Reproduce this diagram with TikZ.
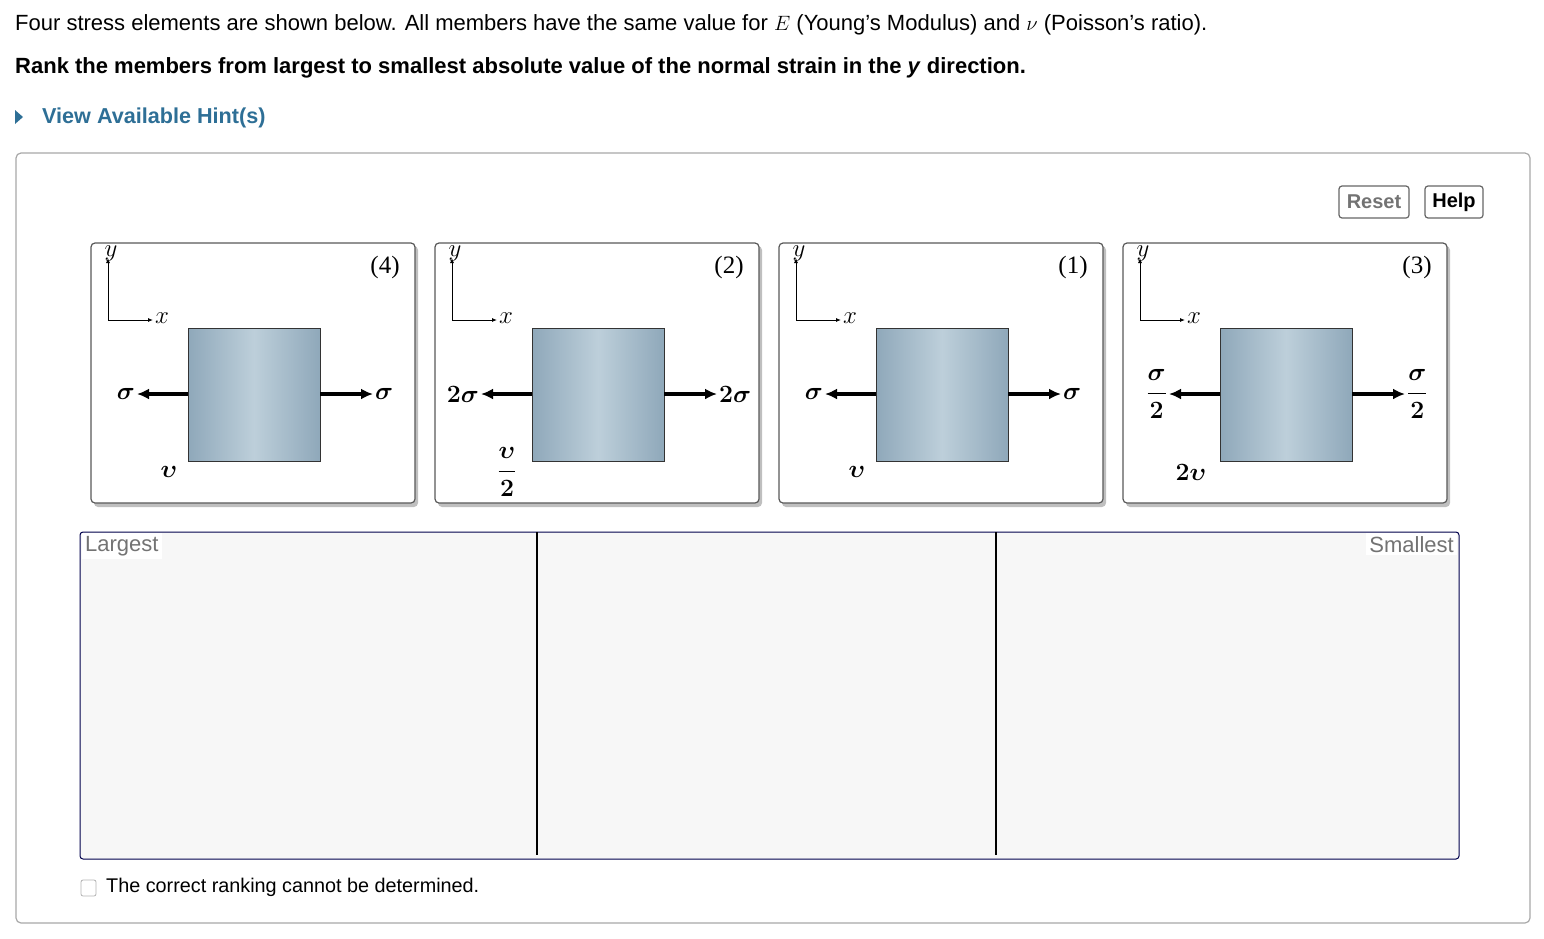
\documentclass[tikz,border=0pt]{standalone}
\usepackage{fontspec}
\setmainfont{Liberation Sans}
\newfontfamily\serifx{Liberation Serif}
\usetikzlibrary{arrows.meta}
\definecolor{linkc}{HTML}{2E6F96}
\definecolor{sq}{HTML}{8FA8BA}
\definecolor{sqm}{HTML}{BDCFDA}
\definecolor{frame}{HTML}{A8A8A8}
\tikzset{
  card/.style={draw=gray!70!black, line width=1.2pt, rounded corners=4pt, fill=white},
  force/.style={line width=3.5pt, -{Latex[length=12pt,width=11pt]}},
  ax/.style={line width=0.9pt, -{Latex[length=5pt,width=4pt]}},
  lab/.style={font=\fontsize{28}{30}\selectfont\boldmath, inner sep=1pt},
  btn/.style={draw=gray!80!black, line width=1.2pt, rounded corners=3pt, font=\fontsize{20}{20}\selectfont\bfseries, minimum height=32pt, inner xsep=6pt},
}
\begin{document}
\begin{tikzpicture}[x=1pt,y=-1pt]
\useasboundingbox (0,0) rectangle (1544,938);
\node[anchor=west, inner sep=0, font=\fontsize{22}{24}\selectfont] (t1) at (15,25) {Four stress elements are shown below. All members have the same value for $E$ (Young’s Modulus) and $\nu$ (Poisson’s ratio).};
\node[anchor=west, inner sep=0, font=\fontsize{22}{24}\selectfont\bfseries] (t2) at (15,68) {Rank the members from largest to smallest absolute value of the normal strain in the \textit{y} direction.};
\fill[linkc] (15,110) -- (23,117) -- (15,124) -- cycle;
\node[anchor=west, inner sep=0, text=linkc, font=\fontsize{21.6}{24}\selectfont\bfseries] (hint) at (42,118) {View Available Hint(s)};
\draw[frame, line width=1.2pt, rounded corners=5pt] (16,153) rectangle (1530,923);
\node[btn, text=gray!90!black, minimum width=70pt] (reset) at (1374,202) {Reset};
\node[btn, minimum width=58pt] (help) at (1454,202) {Help};
% cards
\foreach \cx/\num/\ll/\rl/\nl/\nx in {91/4/{$\sigma$}/{$\sigma$}/{$\upsilon$}/78, 435/2/{$2\sigma$}/{$2\sigma$}/{$\displaystyle\frac{\upsilon}{2}$}/72, 779/1/{$\sigma$}/{$\sigma$}/{$\upsilon$}/78, 1123/3/{$\displaystyle\frac{\sigma}{2}$}/{$\displaystyle\frac{\sigma}{2}$}/{$2\upsilon$}/68}{
  \begin{scope}[shift={(\cx,0)}]
    \fill[gray!50, rounded corners=4pt] (3,246) rectangle (327,507);
    \draw[card] (0,243) rectangle (324,503);
    \draw[ax] (17,320) -- (17,258);
    \draw[ax] (17,320) -- (62,320);
    \node[lab, font=\fontsize{24}{26}\selectfont] at (20,254) {$y$};
    \node[lab, font=\fontsize{24}{26}\selectfont] at (71,318) {$x$};
    \node[lab, font=\fontsize{25}{26}\selectfont\serifx] at (294,267) {(\num)};
    \shade[left color=sq, right color=sq, middle color=sqm] (97,328) rectangle (229,461);
    \draw[line width=1pt, black!80] (97,328) rectangle (229,461);
    \draw[force] (97,394) -- (46,394);
    \draw[force] (229,394) -- (282,394);
    \node[lab, anchor=east] at (45,394) {\ll};
    \node[lab, anchor=west] at (283,394) {\rl};
    \node[lab] at (\nx,472) {\nl};
  \end{scope}
}
% ranking area
\draw[fill=black!3, draw=black!70!blue, line width=1pt, rounded corners=3pt] (80,532) rectangle (1459,859);
\draw[line width=2.5pt] (537,532) -- (537,855);
\draw[line width=2.5pt] (996,532) -- (996,855);
\node[anchor=north west, fill=white, inner sep=3pt, text=gray!90!black, font=\fontsize{22}{24}\selectfont] (lg) at (82,533) {Largest};
\node[anchor=north east, fill=white, inner sep=3pt, text=gray!90!black, font=\fontsize{22}{24}\selectfont] (sm) at (1457,533) {Smallest};
\draw[gray!60, rounded corners=2pt, line width=0.8pt] (81,880) rectangle (96,896);
\node[anchor=west, inner sep=0, font=\fontsize{19.8}{22}\selectfont] (cb) at (106,887) {The correct ranking cannot be determined.};
\end{tikzpicture}
\end{document}
